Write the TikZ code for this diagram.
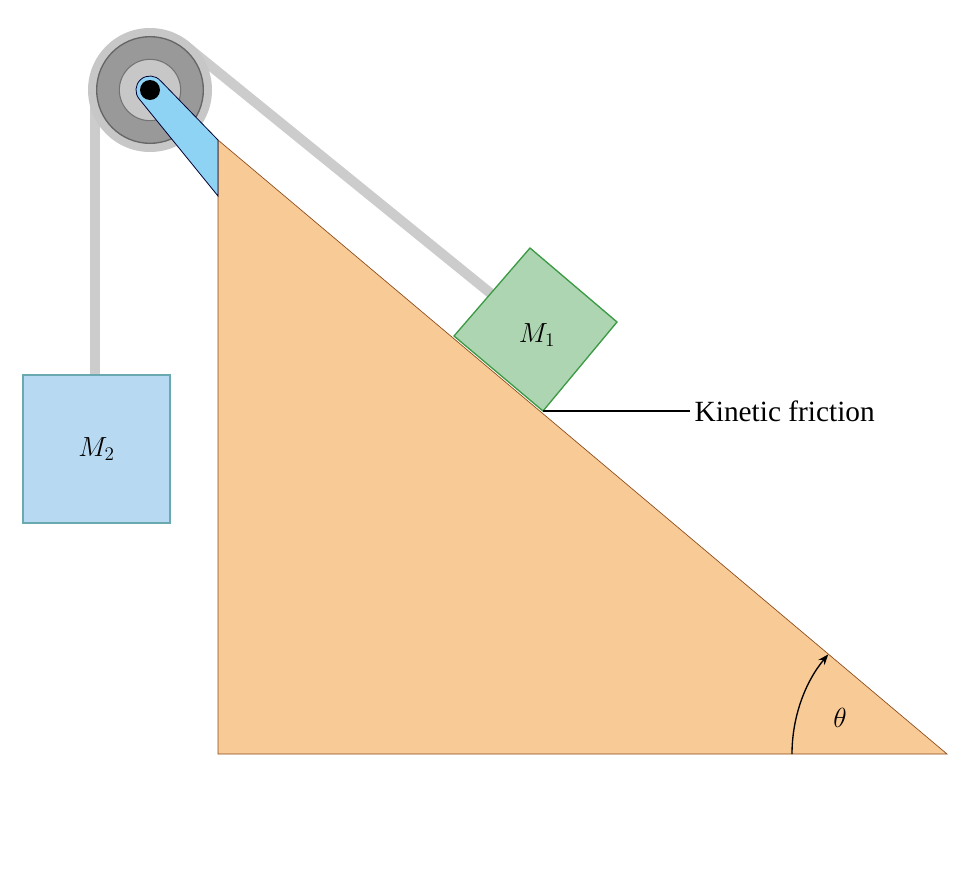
\documentclass[tikz,border=0pt]{standalone}
\usepackage{fontspec}
\setmainfont{Liberation Serif}
\usetikzlibrary{arrows.meta}
\begin{document}
\begin{tikzpicture}[x=0.75pt,y=-0.75pt,
  rope/.style={line width=7.5pt,draw=black!20},
  lbl/.style={font=\fontsize{22}{24}\selectfont}]
\useasboundingbox (0,0) rectangle (978,878);
\definecolor{wedge}{HTML}{F8CA96}
\definecolor{wedgeb}{HTML}{8A4A1A}
\definecolor{mtwo}{HTML}{B7D9F2}
\definecolor{mtwob}{HTML}{6AA9B0}
\definecolor{mone}{HTML}{AED5B2}
\definecolor{moneb}{HTML}{3C9A45}
\definecolor{arm}{HTML}{8FD3F4}
% ropes
\coordinate (ropeA) at (95,90);
\coordinate (ropeB) at (95,378);
\coordinate (ropeC) at (186,46);
\coordinate (ropeD) at (505,305);
\draw[rope] (ropeA) -- (ropeB);
\draw[rope] (ropeC) -- (ropeD);
% wedge
\draw[fill=wedge,draw=wedgeb,line width=0.5pt] (218,140) coordinate (top) -- (947,754) coordinate (tip) -- (218,754) coordinate (base) -- cycle;
% M1
\draw[fill=mone,draw=moneb,line width=1pt] (454,336) -- (530,248) -- (617,322) -- (543,411) -- cycle;
\node[lbl] (m1) at (537,335) {$M_1$};
% M2
\node[draw=mtwob,fill=mtwo,line width=1pt,minimum width=110.25pt,minimum height=111pt,inner sep=0pt] (m2) at (96.5,449) {};
\node[lbl] at (m2) {$M_2$};
% friction
\coordinate (fr) at (543,411);
\node[lbl,anchor=west] (kf) at (690,411) {Kinetic friction};
\draw[line width=0.8pt] (fr) -- (kf.west);
% angle
\draw[-{Stealth[length=8pt]},line width=1pt] (792,754) arc[start angle=180,end angle=140,radius=116.25pt];
\node[lbl] (th) at (840,718) {$\theta$};
% pulley
\coordinate (c) at (150,90);
\fill[black!22] (c) circle[radius=46.5pt];
\draw[fill=black!40,draw=black!60,line width=1pt] (c) circle[radius=40pt];
\draw[fill=black!22,draw=black!55,line width=0.8pt] (c) circle[radius=23pt];
\draw[fill=arm,draw=black!80!blue,line width=0.6pt] (160.6,80.8) -- (218,140) -- (218,196) -- (139.4,99.2) arc[start angle=221,end angle=41,radius=10.5pt] -- cycle;
\fill[black] (c) circle[radius=7.5pt];
\end{tikzpicture}
\end{document}
